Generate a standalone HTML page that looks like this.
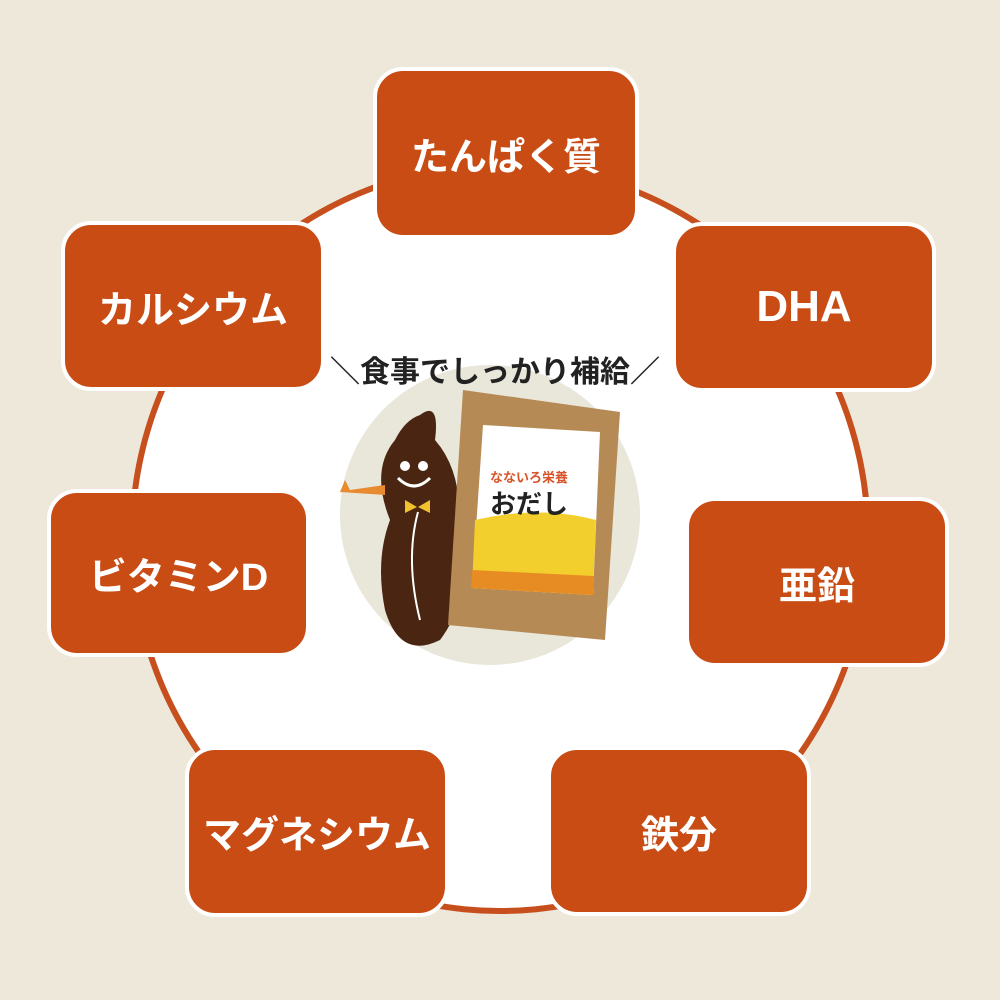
<!DOCTYPE html>
<html><head><meta charset="utf-8"><style>
body{margin:0;width:1000px;height:1000px;background:#ede8da;overflow:hidden;position:relative;font-family:"Liberation Sans","Noto Sans CJK JP",sans-serif}
.c{position:absolute;left:129px;top:162px;width:730px;height:740px;border-radius:50%;background:#fff;border:6px solid #c64f1d}
.b{position:absolute;width:256px;height:164px;background:#c84c14;border:4px solid #fff;border-radius:30px;box-sizing:border-box;color:#fff;font-weight:bold;font-size:38px;display:flex;align-items:center;justify-content:center;letter-spacing:0px}
.in{position:absolute;left:340px;top:365px;width:300px;height:300px;border-radius:50%;background:#e9e6da}
.t{position:absolute;left:325px;top:347px;width:340px;text-align:center;font-size:30px;color:#222;font-weight:bold}
</style></head><body>
<div class="c"></div>
<div class="in"></div>
<div class="t">＼食事でしっかり補給／</div>
<svg style="position:absolute;left:0;top:0" width="1000" height="1000">
<path d="M420 415 Q440 400 435 440 Q470 480 455 560 Q470 600 440 640 Q400 660 385 610 Q375 560 390 520 Q370 470 395 440 Q405 420 420 415Z" fill="#4a2612"/>
<path d="M385 485 L350 490 L345 480 L340 492 L385 495Z" fill="#e88a2f"/>
<path d="M405 500 l12 7 l-12 6Z M430 500 l-12 7 l12 6Z" fill="#f2c12e"/>
<circle cx="405" cy="466" r="5" fill="#fff"/><circle cx="423" cy="466" r="5" fill="#fff"/>
<path d="M398 478 Q414 494 430 478" stroke="#fff" stroke-width="3" fill="none"/>
<path d="M418 512 Q405 560 420 620" stroke="#fff" stroke-width="2" fill="none"/>
<path d="M463 390 L620 412 L605 640 L448 625Z" fill="#b58a55"/>
<path d="M483 425 L600 432 L593 595 L472 588Z" fill="#fff"/>
<path d="M475 520 Q540 505 596 520 L593 595 L472 588Z" fill="#f3cf2e"/>
<path d="M472 570 L594 576 L593 595 L471 588Z" fill="#e78b23"/>
<text x="490" y="513" font-size="26" font-weight="bold" fill="#222" font-family="Liberation Sans,Noto Sans CJK JP,sans-serif">おだし</text>
<text x="490" y="482" font-size="13" font-weight="bold" fill="#d9542a" font-family="Liberation Sans,Noto Sans CJK JP,sans-serif">なないろ栄養</text>
</svg>
<div class="b" style="left:373px;top:67px;width:266px;height:172px">たんぱく質</div>
<div class="b" style="left:672px;top:222px;width:264px;height:170px;font-size:44px">DHA</div>
<div class="b" style="left:61px;top:221px;width:264px;height:170px">カルシウム</div>
<div class="b" style="left:47px;top:489px;width:263px;height:168px">ビタミンD</div>
<div class="b" style="left:685px;top:497px;width:264px;height:170px">亜鉛</div>
<div class="b" style="left:185px;top:746px;width:264px;height:171px">マグネシウム</div>
<div class="b" style="left:547px;top:746px;width:264px;height:170px">鉄分</div>
</body></html>
